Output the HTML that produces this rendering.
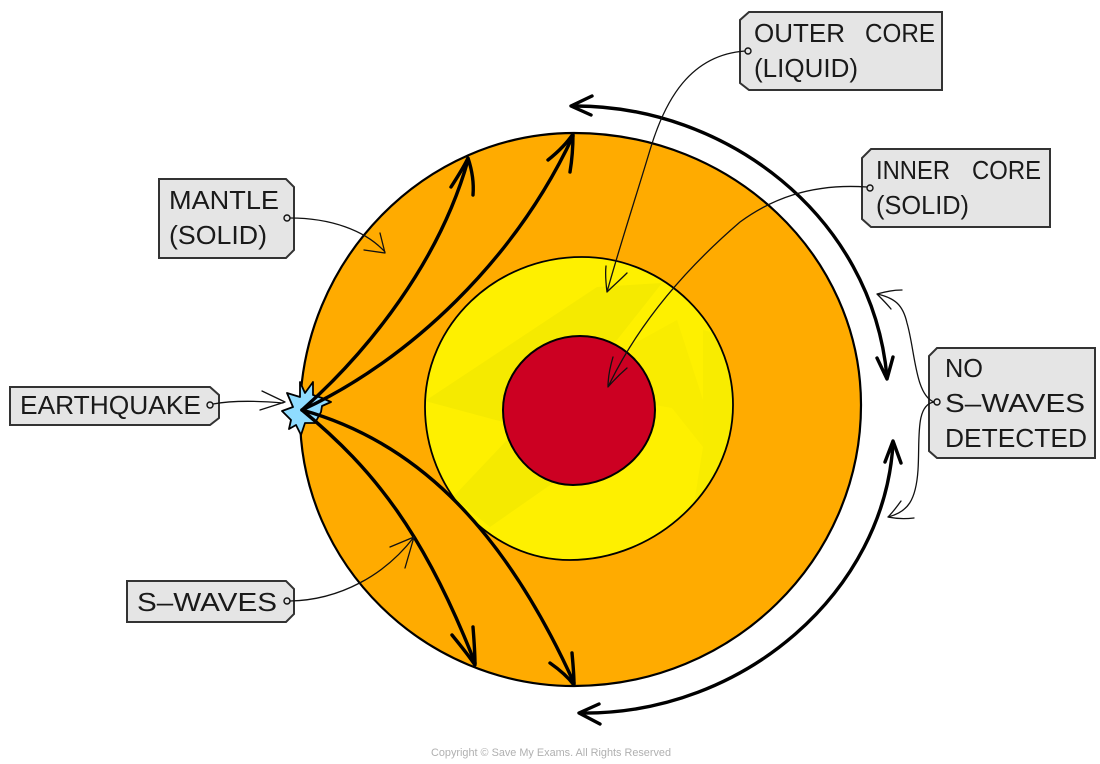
<!DOCTYPE html>
<html><head><meta charset="utf-8"><style>
html,body{margin:0;padding:0;background:#fff;width:1100px;height:764px;overflow:hidden}
svg{display:block}
.t{font-family:"Liberation Sans",sans-serif;font-size:26px;fill:#1a1a1a}
.tag{fill:#e5e5e5;stroke:#333;stroke-width:2}
.thin{fill:none;stroke:#111;stroke-width:1.3;stroke-linecap:round;stroke-linejoin:round}
.thick{fill:none;stroke:#000;stroke-width:3.4;stroke-linecap:round;stroke-linejoin:round}
.dot{fill:#e5e5e5;stroke:#111;stroke-width:1.4}
</style></head><body>
<svg width="1100" height="764" viewBox="0 0 1100 764" xmlns="http://www.w3.org/2000/svg">
<defs><clipPath id="cc"><path d="M582 257C665 257 733 325 733 405C733 490 655 560 570 560C490 560 425 490 425 407C425 325 495 257 582 257Z"/></clipPath></defs>
<!-- mantle -->
<path d="M574 133C732 133 861 255 861 405C861 560 732 686 574 686C425 686 300 565 300 415C300 260 425 133 574 133Z" fill="#ffab00" stroke="#000" stroke-width="2.2"/>
<!-- outer core -->
<path d="M582 257C665 257 733 325 733 405C733 490 655 560 570 560C490 560 425 490 425 407C425 325 495 257 582 257Z" fill="#fef000"/>
<g clip-path="url(#cc)" fill="#f5ea00">
<path d="M425 401L597 287L662 283L617 340L503 422Z"/>
<path d="M453 497L507 440L553 483L490 527Z"/>
<path d="M628 347L677 320L703 400L703 447L672 408L655 405Z" opacity=".6"/>
<path d="M703 330L740 340L740 460L690 530L703 447Z" opacity=".7"/>
</g>
<path d="M582 257C665 257 733 325 733 405C733 490 655 560 570 560C490 560 425 490 425 407C425 325 495 257 582 257Z" fill="none" stroke="#000" stroke-width="1.8"/>
<!-- inner core -->
<path d="M580 336C622 336 655 370 655 410C655 452 615 485 573 485C534 485 503 450 503 410C503 370 538 336 580 336Z" fill="#cc0022" stroke="#000" stroke-width="2"/>

<!-- earthquake star -->
<path d="M300 382L305 393L313 382L313 395L322 398L331 402L322 406L321 412L315 423L305 423L301 435L296 425L289 429L291 420L282 411L293 407L287 393L300 397Z" fill="#8fdcff" stroke="#000" stroke-width="1.8" stroke-linejoin="round"/>

<!-- S-wave paths -->
<path class="thick" d="M302 410C370 350 440 260 468 160"/>
<path class="thick" d="M451 187C458 176 464 167 468 158C472 170 474 183 473 195"/>
<path class="thick" d="M302 410C410 360 515 260 573 136"/>
<path class="thick" d="M548 160C558 152 567 143 573 134C573 146 572 160 570 172"/>
<path class="thick" d="M302 410C375 470 425 535 475 663"/>
<path class="thick" d="M452 635C461 646 469 656 475 665C475 652 474 640 473 627"/>
<path class="thick" d="M302 410C410 440 500 520 574 683"/>
<path class="thick" d="M550 663C560 670 568 677 574 685C574 674 573 664 572 653"/>

<!-- outer arcs -->
<path class="thick" d="M573 106C725 105 872 215 887 377"/>
<path class="thick" d="M592 96L571 106L591 115"/>
<path class="thick" d="M877 358L887 379L893 357"/>
<path class="thick" d="M893 443C885 590 745 715 581 713"/>
<path class="thick" d="M885 462L893 441L901 463"/>
<path class="thick" d="M599 704L579 713L600 724"/>

<!-- tags -->
<path class="tag" d="M10 387H210L219 395V418L210 425H10Z"/>
<text class="t" x="20" y="414" textLength="181" lengthAdjust="spacingAndGlyphs">EARTHQUAKE</text>
<circle class="dot" cx="210" cy="405" r="3"/>
<path class="thin" d="M213 404C235 400 260 401 283 403M262 391L285 402L260 410"/>

<path class="tag" d="M159 179H286L294 187V250L286 258H159Z"/>
<text class="t" x="169" y="209" textLength="110" lengthAdjust="spacingAndGlyphs">MANTLE</text>
<text class="t" x="169" y="244" textLength="98" lengthAdjust="spacingAndGlyphs">(SOLID)</text>
<circle class="dot" cx="287" cy="218" r="3"/>
<path class="thin" d="M290 218C330 218 365 230 385 252M364 250L385 253L380 233"/>

<path class="tag" d="M127 581H286L294 589V614L286 622H127Z"/>
<text class="t" x="137" y="611" textLength="140" lengthAdjust="spacingAndGlyphs">S–WAVES</text>
<circle class="dot" cx="287" cy="601" r="3"/>
<path class="thin" d="M290 601C340 600 385 575 414 537M390 547L414 537L405 568"/>

<path class="tag" d="M749 12H942V90H749L740 83V20Z"/>
<text class="t" x="754" y="42" textLength="91" lengthAdjust="spacingAndGlyphs">OUTER</text>
<text class="t" x="865" y="42" textLength="70" lengthAdjust="spacingAndGlyphs">CORE</text>
<text class="t" x="754" y="77" textLength="104" lengthAdjust="spacingAndGlyphs">(LIQUID)</text>
<circle class="dot" cx="748" cy="51" r="3"/>
<path class="thin" d="M745 51C690 55 665 100 650 150C635 200 620 245 607 292M606 266C605 275 606 284 607 292C613 286 620 280 627 273"/>

<path class="tag" d="M871 149H1050V227H871L862 219V158Z"/>
<text class="t" x="876" y="179" textLength="74" lengthAdjust="spacingAndGlyphs">INNER</text>
<text class="t" x="972" y="179" textLength="69" lengthAdjust="spacingAndGlyphs">CORE</text>
<text class="t" x="876" y="214" textLength="93" lengthAdjust="spacingAndGlyphs">(SOLID)</text>
<circle class="dot" cx="870" cy="188" r="3"/>
<path class="thin" d="M867 187C810 183 770 200 740 222C690 265 640 320 608 387M613 357C610 367 608 377 608 387C614 380 620 374 627 368"/>

<path class="tag" d="M937 348H1095V458H937L929 451V356Z"/>
<text class="t" x="945" y="377" textLength="38" lengthAdjust="spacingAndGlyphs">NO</text>
<text class="t" x="945" y="412" textLength="140" lengthAdjust="spacingAndGlyphs">S–WAVES</text>
<text class="t" x="945" y="447" textLength="142" lengthAdjust="spacingAndGlyphs">DETECTED</text>
<circle class="dot" cx="937" cy="402" r="3"/>
<path class="thin" d="M934 402C915 395 915 350 907 323C903 305 895 298 877 294M902 290C892 290 884 292 877 294C882 299 887 304 891 309"/>
<path class="thin" d="M934 402C915 405 920 440 918 470C916 500 908 512 888 517M901 501C896 508 892 513 888 517C897 519 905 519 914 518"/>

<text x="551" y="756" text-anchor="middle" font-family="Liberation Sans,sans-serif" font-size="11" fill="#b0b0b0" textLength="240" lengthAdjust="spacingAndGlyphs">Copyright © Save My Exams. All Rights Reserved</text>
</svg>
</body></html>
